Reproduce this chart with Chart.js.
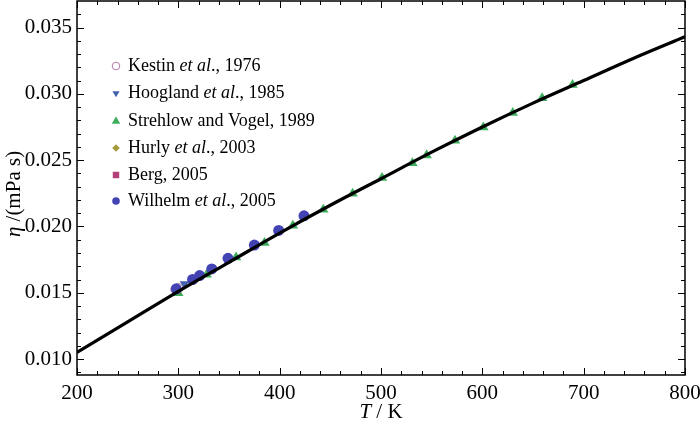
<!DOCTYPE html>
<html>
<head>
<meta charset="utf-8">
<script src="https://cdn.jsdelivr.net/npm/chart.js@4"></script>
<style>
  html, body { margin: 0; padding: 0; background: #fff; }
  #wrap { width: 700px; height: 425px; }
</style>
</head>
<body>
<div id="wrap"><canvas id="c" width="700" height="425"></canvas></div>
<script>
'use strict';

// ===== DATA =====
// correlation curve
const curveT   = [200, 250, 300, 350, 400, 450, 500, 550, 600, 650, 700, 750, 800];
const curveEta = [0.0105, 0.0128, 0.0151, 0.0173, 0.0195, 0.0216, 0.0236, 0.0256, 0.0275, 0.0293, 0.0310, 0.0327, 0.0343];

// measurements
const kestinT   = [297, 300];
const kestinEta = [0.01525, 0.01535];
const hooglandT   = [306, 318];
const hooglandEta = [0.01565, 0.0161];
const strehlowT   = [300, 328, 357, 385, 413, 443, 472, 501, 531, 545, 573, 601, 630, 659, 689];
const strehlowEta = [0.0150, 0.0164, 0.0177, 0.0188, 0.0201, 0.0213, 0.0225, 0.0237, 0.0248, 0.0254, 0.0265, 0.0275, 0.0286, 0.0297, 0.0307];
const hurlyT   = [300];
const hurlyEta = [0.0152];
const bergT   = [298];
const bergEta = [0.0152];
const wilhelmT   = [298, 314, 321, 333, 349, 375, 399, 424];
const wilhelmEta = [0.0153, 0.0160, 0.0163, 0.0168, 0.0176, 0.0186, 0.0197, 0.0208];

const xTicks = [200, 300, 400, 500, 600, 700, 800];
const yTicks = [0.010, 0.015, 0.020, 0.025, 0.030, 0.035];

// legend labels: [text, italic]
const legendLabels = [
    [['Kestin ', false], ['et al', true], ['., 1976', false]],
    [['Hoogland ', false], ['et al', true], ['., 1985', false]],
    [['Strehlow and Vogel, 1989', false]],
    [['Hurly ', false], ['et al', true], ['., 2003', false]],
    [['Berg, 2005', false]],
    [['Wilhelm ', false], ['et al', true], ['., 2005', false]],
];

const SERIF = '"Liberation Serif", "DejaVu Serif", serif';

function pts(xs, ys) { return xs.map((x, i) => ({ x: x, y: ys[i] })); }

// ===== MARKER DRAW =====
function drawMarker(ctx, style, x, y, r, fill, stroke) {
    ctx.save();
    ctx.beginPath();
    if (style === 'circle') {
        ctx.arc(x, y, r, 0, Math.PI * 2);
    } else if (style === 'triangle') {
        ctx.moveTo(x, y - r); ctx.lineTo(x + r * 0.95, y + r * 0.6); ctx.lineTo(x - r * 0.95, y + r * 0.6);
        ctx.closePath();
    } else if (style === 'triangleDown') {
        ctx.moveTo(x, y + r); ctx.lineTo(x + r * 0.95, y - r * 0.6); ctx.lineTo(x - r * 0.95, y - r * 0.6);
        ctx.closePath();
    } else if (style === 'diamond') {
        ctx.moveTo(x, y - r); ctx.lineTo(x + r, y); ctx.lineTo(x, y + r); ctx.lineTo(x - r, y);
        ctx.closePath();
    } else if (style === 'square') {
        ctx.rect(x - r * 0.85, y - r * 0.85, r * 1.7, r * 1.7);
    }
    if (fill) { ctx.fillStyle = fill; ctx.fill(); }
    if (stroke) { ctx.strokeStyle = stroke; ctx.lineWidth = 1; ctx.stroke(); }
    ctx.restore();
}

const series = [
    { data: pts(kestinT, kestinEta), style: 'circle', fill: '#ffffff', stroke: '#b27aa8', r: 4.5 },
    { data: pts(hooglandT, hooglandEta), style: 'triangleDown', fill: '#4361ad', stroke: null, r: 5 },
    { data: pts(strehlowT, strehlowEta), style: 'triangle', fill: '#3fae5c', stroke: null, r: 5.5 },
    { data: pts(hurlyT, hurlyEta), style: 'diamond', fill: '#a49a3c', stroke: null, r: 4.5 },
    { data: pts(bergT, bergEta), style: 'square', fill: '#b13f78', stroke: null, r: 4.5 },
    { data: pts(wilhelmT, wilhelmEta), style: 'circle', fill: '#4343b4', stroke: null, r: 5.5 },
];

// ===== PLUGIN: frame, inward ticks, titles, legend =====
const framePlugin = {
    id: 'frame',
    afterDraw(chart) {
        const { ctx, chartArea: { left, right, top, bottom }, scales: { x, y } } = chart;
        ctx.save();
        ctx.strokeStyle = '#000'; ctx.lineWidth = 1.5;
        ctx.strokeRect(left, top, right - left, bottom - top);

        ctx.lineWidth = 1;
        ctx.beginPath();
        for (let t = 200; t <= 800; t += 20) {
            const px = Math.round(x.getPixelForValue(t)) + 0.5;
            const len = t % 100 === 0 ? 7 : 4;
            ctx.moveTo(px, bottom); ctx.lineTo(px, bottom - len);
            ctx.moveTo(px, top); ctx.lineTo(px, top + len);
        }
        for (let k = 9; k <= 36; k++) {
            const v = k / 1000;
            const py = Math.round(y.getPixelForValue(v)) + 0.5;
            const len = k % 5 === 0 ? 7 : 4;
            ctx.moveTo(left, py); ctx.lineTo(left + len, py);
            ctx.moveTo(right, py); ctx.lineTo(right - len, py);
        }
        ctx.stroke();

        // x title: T / K
        ctx.fillStyle = '#000';
        ctx.textBaseline = 'alphabetic';
        const cx = (left + right) / 2;
        ctx.font = 'italic 21px ' + SERIF;
        const wT = ctx.measureText('T').width;
        ctx.font = '21px ' + SERIF;
        const wRest = ctx.measureText(' / K').width;
        let sx = cx - (wT + wRest) / 2;
        ctx.font = 'italic 21px ' + SERIF; ctx.fillText('T', sx, 418);
        ctx.font = '21px ' + SERIF; ctx.fillText(' / K', sx + wT, 418);

        // y title: η /(mPa s)
        ctx.save();
        ctx.translate(20, (top + bottom) / 2 + 6);
        ctx.rotate(-Math.PI / 2);
        ctx.font = 'italic 21px ' + SERIF;
        const wEta = ctx.measureText('η').width;
        ctx.font = '21px ' + SERIF;
        const wUnit = ctx.measureText(' /(mPa s)').width;
        sx = -(wEta + wUnit) / 2;
        ctx.font = 'italic 21px ' + SERIF; ctx.fillText('η', sx, 0);
        ctx.font = '21px ' + SERIF; ctx.fillText(' /(mPa s)', sx + wEta, 0);
        ctx.restore();

        // legend
        const rows = [65, 92.5, 120, 147, 174, 200];
        ctx.textBaseline = 'middle';
        legendLabels.forEach((segs, i) => {
            const s = series[i];
            drawMarker(ctx, s.style, 116, rows[i] + 1, s.style === 'triangle' ? 4.5 : 3.8, s.fill, s.stroke);
            let tx = 128;
            segs.forEach(([txt, it]) => {
                ctx.font = (it ? 'italic ' : '') + '18px ' + SERIF;
                ctx.fillText(txt, tx, rows[i] + 1);
                tx += ctx.measureText(txt).width;
            });
        });
        ctx.restore();
    }
};

// ===== CHART =====
const datasets = [{
    label: 'curve',
    data: pts(curveT, curveEta),
    showLine: true,
    borderColor: '#000', borderWidth: 3.2,
    pointRadius: 0, tension: 0.4, cubicInterpolationMode: 'monotone',
    order: 0,
}];
series.forEach((s, i) => {
    datasets.push({
        label: 's' + i,
        data: s.data,
        pointStyle: false,
        pointRadius: 0,
        order: 1,
    });
});

// point marks drawn with our own marker shapes through dataset meta positions
const markerPlugin = {
    id: 'markers',
    beforeDatasetDraw(chart, args) {
        if (args.index !== 0) return;
        const ctx = chart.ctx;
        ctx.save();
        const { left, right, top, bottom } = chart.chartArea;
        ctx.beginPath(); ctx.rect(left, top, right - left, bottom - top); ctx.clip();
        series.forEach((s, i) => {
            const meta = chart.getDatasetMeta(i + 1);
            meta.data.forEach(el => drawMarker(ctx, s.style, el.x, el.y, s.r, s.fill, s.stroke));
        });
        ctx.restore();
    }
};

new Chart(document.getElementById('c'), {
    type: 'scatter',
    data: { datasets: datasets },
    options: {
        responsive: false, animation: false,
        layout: { padding: { top: 1, right: 15, left: 0, bottom: 0 } },
        plugins: { legend: { display: false }, tooltip: { enabled: false } },
        scales: {
            x: {
                type: 'linear', min: 200, max: 800,
                grid: { display: false, drawTicks: false },
                border: { display: false },
                afterBuildTicks: s => { s.ticks = xTicks.map(v => ({ value: v })); },
                afterFit: s => { s.height = 50; s.paddingLeft = 0; s.paddingRight = 0; },
                ticks: { color: '#000', padding: 6, maxRotation: 0, font: { family: SERIF, size: 21 },
                         callback: v => String(v) },
            },
            y: {
                type: 'linear', min: 0.0088, max: 0.0370,
                grid: { display: false, drawTicks: false },
                border: { display: false },
                afterBuildTicks: s => { s.ticks = yTicks.map(v => ({ value: v })); },
                afterFit: s => { s.width = 77; s.paddingTop = 0; s.paddingBottom = 0; },
                ticks: { color: '#000', padding: 5, font: { family: SERIF, size: 21 },
                         callback: v => v.toFixed(3) },
            }
        }
    },
    plugins: [markerPlugin, framePlugin]
});
</script>
</body>
</html>
